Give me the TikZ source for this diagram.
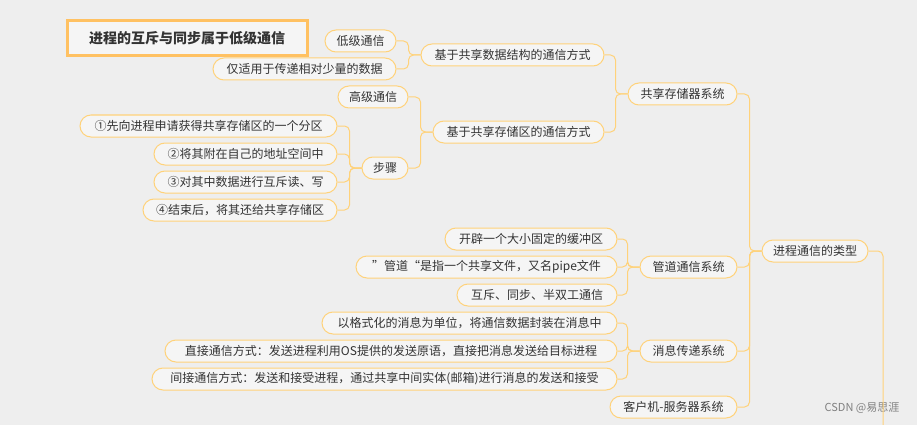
\documentclass[tikz,border=0pt]{standalone}
\usepackage{fontspec}
\setmainfont{Noto Sans CJK SC}
\usetikzlibrary{calc}
\definecolor{bg}{HTML}{EEEEEE}
\definecolor{ln}{HTML}{FFD27A}
\definecolor{tx}{HTML}{333333}
\tikzset{
  nd/.style={draw=ln,line width=1pt,fill=bg!60!white,rounded corners=11pt,text=tx,
    minimum height=22pt,inner xsep=0pt,inner ysep=0pt,font=\fontsize{12}{14}\selectfont},
  cn/.style={draw=ln,line width=1pt,rounded corners=5pt},
}
\newcommand{\nodebox}[5]{\node[nd,minimum width=#4pt] (#1) at (#2,#3) {#5};}
\begin{document}
\begin{tikzpicture}[x=1pt,y=-1pt]
\fill[bg] (0,0) rectangle (917,425);
\useasboundingbox (0,0) rectangle (917,425);
\node[draw=ln!80!orange,line width=3pt,fill=bg!60!white,minimum width=240pt,minimum height=35pt,text=tx,font=\fontsize{14}{16}\selectfont\bfseries] (title) at (187,38.5) {进程的互斥与同步属于低级通信};
\nodebox{lo}{360.5}{41}{71}{低级通信}
\nodebox{few}{304.5}{69}{183}{仅适用于传递相对少量的数据}
\nodebox{ds}{512.5}{55}{183}{基于共享数据结构的通信方式}
\nodebox{hi}{373}{97}{70}{高级通信}
\nodebox{sa}{518.5}{132}{171}{基于共享存储区的通信方式}
\nodebox{st}{385}{168}{46}{步骤}
\nodebox{s1}{208.5}{126}{257}{①先向进程申请获得共享存储区的一个分区}
\nodebox{s2}{245.5}{154}{183}{②将其附在自己的地址空间中}
\nodebox{s3}{245.5}{182}{183}{③对其中数据进行互斥读、写}
\nodebox{s4}{240}{210}{194}{④结束后，将其还给共享存储区}
\nodebox{shm}{682.5}{94}{109}{共享存储器系统}
\nodebox{type}{815}{251}{106}{进程通信的类型}
\nodebox{p1}{531}{239}{172}{开辟一个大小固定的缓冲区}
\nodebox{p2}{486.5}{267}{261}{”管道“是指一个共享文件，又名pipe文件}
\nodebox{p3}{537}{295}{160}{互斥、同步、半双工通信}
\nodebox{pipe}{688.5}{267}{97}{管道通信系统}
\nodebox{m1}{469.5}{323}{295}{以格式化的消息为单位，将通信数据封装在消息中}
\nodebox{m2}{391}{351}{452}{直接通信方式：发送进程利用OS提供的发送原语，直接把消息发送给目标进程}
\nodebox{m3}{384.5}{379}{465}{间接通信方式：发送和接受进程，通过共享中间实体(邮箱)进行消息的发送和接受}
\nodebox{msg}{688.5}{351}{97}{消息传递系统}
\nodebox{cs}{673.5}{407}{127}{客户机-服务器系统}
\node[text=gray,font=\fontsize{11}{13}\selectfont] (wm) at (862,408) {CSDN @易思涯};
\coordinate (tail) at (883,440);
\newcommand{\lnk}[2]{\draw[cn] (#1.east) -| ($(#2.west)+(-12,0)$) -- (#2.west);}
\lnk{lo}{ds}\lnk{few}{ds}
\lnk{hi}{sa}\lnk{st}{sa}
\lnk{s1}{st}\lnk{s2}{st}\lnk{s3}{st}\lnk{s4}{st}
\lnk{ds}{shm}\lnk{sa}{shm}
\lnk{shm}{type}\lnk{pipe}{type}\lnk{msg}{type}\lnk{cs}{type}
\lnk{p1}{pipe}\lnk{p2}{pipe}\lnk{p3}{pipe}
\lnk{m1}{msg}\lnk{m2}{msg}\lnk{m3}{msg}
\draw[cn] (type.east) -| (tail);
\end{tikzpicture}
\end{document}
